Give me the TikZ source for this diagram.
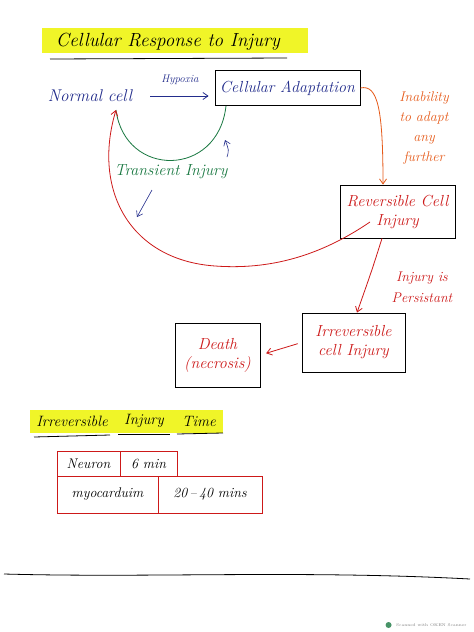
\documentclass[tikz,border=0pt]{standalone}
\usetikzlibrary{arrows.meta}
\definecolor{inkblue}{RGB}{35,45,140}
\definecolor{inkgreen}{RGB}{25,120,65}
\definecolor{inkred}{RGB}{205,25,25}
\definecolor{inkorange}{RGB}{230,90,25}
\definecolor{marker}{RGB}{240,245,40}
\begin{document}
\begin{tikzpicture}[x=1pt,y=-1pt,
	hand/.style={font=\fontsize{16}{19}\selectfont\itshape,inner sep=1pt,align=center},
	box/.style={hand,draw=black,thick},
	cellbox/.style={draw=inkred,thick,font=\fontsize{14}{17}\selectfont\itshape,inner sep=0pt},
	tip/.style={-{Straight Barb[length=5pt,width=7pt]},thick}]
	\useasboundingbox(0,0)rectangle(474,632);
	\fill[white](0,0)rectangle(474,632);
	% heading
	\fill[marker](42,28)rectangle(308,53);
	\node[hand,font=\fontsize{19}{22}\selectfont\itshape](title)at(168,42){Cellular Response to Injury};
	\draw[thick](50,59)--(287,58);
	% top row
	\node[hand,text=inkblue,font=\fontsize{17}{20}\selectfont\itshape](normal)at(90,96){Normal cell};
	\node[box,text=inkblue,minimum width=145,minimum height=35](adapt)at(287.5,88){Cellular Adaptation};
	\draw[tip,inkblue](150,96)--(adapt.west|-normal)[shorten >=6pt];
	\node[hand,text=inkblue,font=\fontsize{11}{13}\selectfont\itshape](hypoxia)at(180,80){Hypoxia};
	\coordinate(cellfoot)at(116,110);
	\draw[inkgreen,thick](cellfoot)..controls(125,178)and(218,178)..(adapt.south west-|226,0);
	\node[hand,text=inkgreen](transient)at(171,172){Transient Injury};
	\draw[tip,inkblue,semithick](227,157)..controls(229,150)..(225,140);
	\draw[tip,inkblue,semithick](152,190)--(137,217);
	% reversible
	\node[box,text=inkred,minimum width=115,minimum height=53](rev)at(397.5,211.5){Reversible Cell\\Injury};
	\draw[tip,inkorange](adapt.east)..controls(378,84)and(383,110)..(rev.north-|383,0);
	\node[hand,text=inkorange,font=\fontsize{14}{20}\selectfont\itshape](inability)at(424,128){Inability\\to adapt\\any\\further};
	\draw[tip,inkred](370,222)..controls(320,256)and(270,270)..(215,266)
		..controls(130,260)and(92,190)..(cellfoot);
	% irreversible
	\node[box,text=inkred,minimum width=103,minimum height=59](irrev)at(353.5,342.5){Irreversible\\cell Injury};
	\draw[tip,inkred](rev.south-|382,0)..controls(372,270)..(irrev.north-|357,0);
	\node[hand,text=inkred,font=\fontsize{14}{21}\selectfont\itshape](persist)at(422,287){Injury is\\Persistant};
	\node[box,text=inkred,minimum width=85,minimum height=64](death)at(217.5,355){Death\\(necrosis)};
	\draw[tip,inkred](irrev.west)--(death.east)[shorten <=4pt,shorten >=6pt];
	% time table
	\fill[marker](30,410)rectangle(223,433);
	\node[hand,font=\fontsize{15}{18}\selectfont\itshape](irr)at(72,421){Irreversible};
	\node[hand,font=\fontsize{15}{18}\selectfont\itshape](inj)at(144,421){Injury};
	\node[hand,font=\fontsize{15}{18}\selectfont\itshape](time)at(199,421){Time};
	\draw[thick](34,437)--(110,435);
	\draw[thick](118,434)--(170,434);
	\draw[thick](177,434)--(223,433);
	\node[cellbox,minimum width=63,minimum height=25](neuron)at(88.5,463.5){Neuron};
	\node[cellbox,minimum width=57,minimum height=25](six)at(148.5,463.5){6 min};
	\node[cellbox,minimum width=101,minimum height=37](myo)at(107.5,494.5){myocarduim};
	\node[cellbox,minimum width=104,minimum height=37](forty)at(210,494.5){20\,--\,40 mins};
	% page foot
	\draw[thick](4,574)..controls(150,578)and(300,570)..(470,579);
	\node[text=gray,font=\fontsize{4}{5}\selectfont,anchor=east](scan)at(470,625){Scanned with OKEN Scanner};
	\fill[inkgreen!80]([xshift=-4pt]scan.west)circle(3);
\end{tikzpicture}
\end{document}
